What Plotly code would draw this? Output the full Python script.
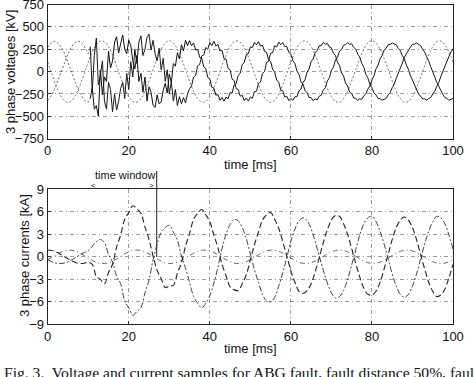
import numpy as np
import plotly.graph_objects as go

# ---------------- data ----------------
t_fine = np.linspace(0, 100, 201)   # voltage samples every 0.5 ms
t_ms = np.arange(0, 101)            # current / healthy-phase samples every 1 ms

va = [275, 308, 329, 339, 337, 323, 298, 262, 217, 164, 105, 43, -21, -85, -145, -200, -248, -287, -316, -334, -340,
      -300, -180, -420, -380, -500, 20, -260, -60, -110, 230, 40, 120, 330, 390, 210, 300, 410, 250, 200, 350,
      290, 120, 30, 180, -110, -20, -230, -60, -330, -170, -230, -380, -400, -260, -360, -340, -210, -130, -240, -30,
      -120, 90, 60, 210, 140, 300, 230, 350, 290, 345,
      290, 320, 240, 250, 160, 150, 55, 35, -65, -80,
      -175, -185, -265, -255, -320, -290, -330, -285, -305, -235,
      -240, -150, -135, -40, -20, 80, 100, 190, 200,
      275, 270, 325, 300, 335, 285, 295, 225, 215, 135,
      115, 25, -5, -95, -120, -205, -215, -285, -275, -325,
      -300, -320, -280, -280, -215, -195, -120, -90, -5, 30,
      115, 140, 215, 235, 290, 290, 325, 305, 315, 275,
      265, 205, 180, 105, 70, -15, -50, -130, -160, -230,
      -245, -295, -300, -320, -305, -310, -270, -250, -195, -160,
      -90, -50, 30, 70, 145, 180, 240, 260, 300, 305,
      320, 305, 300, 260, 235, 180, 140, 75, 25, -45,
      -95, -160, -200, -250, -275, -305, -305, -320, -300, -290,
      -250, -220, -165, -120, -55, 5, 60, 120, 170, 220, 255]

vb = [-323, -298, -262, -217, -164, -105, -43, 21, 85, 145, 200, 248, 287, 316, 334, 340, 334, 316, 287, 248, 200,
      280, -220, 180, 375, -150, -40, 120, -330, -420, -120, -200, -450, -250, -430, -330, -190, -120, -300, -20, -200,
      110, -60, 250, 90, 330, 400, 180, 250, 380, 420, 240, 350, 200, 120, 260, 20, 150, -110, 20, -250,
      -110, -330, -200, -380, -280, -360, -290, -350, -250, -190,
      -160, -60, -45, 65, 80, 175, 185, 270, 250, 325,
      290, 340, 285, 305, 230, 240, 145, 140, 35, 20,
      -85, -100, -190, -200, -275, -265, -325, -295, -330,
      -285, -300, -225, -220, -135, -115, -20, 0, 100, 115,
      205, 210, 290, 275, 330, 300, 325, 280, 280, 215,
      195, 120, 90, 5, -30, -115, -140, -215, -235, -290,
      -290, -325, -305, -315, -275, -265, -205, -180, -105, -70,
      15, 50, 130, 160, 230, 245, 295, 300, 325, 305,
      310, 270, 250, 195, 160, 90, 50, -30, -70, -145,
      -180, -240, -260, -300, -305, -320, -305, -300, -260, -235,
      -180, -140, -75, -25, 45, 95, 160, 200, 250, 275,
      305, 305, 320, 300, 290, 250, 220, 165, 120, 55,
      5, -60, -120, -170, -220, -255, -290, -300, -320, -305, -300]

vc = [107, -22, -147, -251, -321, -345, -321, -251, -147, -22, 107, 220, 302, 342, 334, 279, 185, 65, -65, -185,
      -279, -334, -342, -302, -220, -107, 22, 147, 251, 321, 345, 321, 251, 147, 22, -107, -220, -302, -342, -334,
      -279, -185, -65, 65, 185, 279, 334, 342, 302, 220,
      107, -22, -147, -251, -321, -345, -321, -251, -147, -22, 107, 220, 302, 342, 334, 279, 185, 65, -65, -185,
      -279, -334, -342, -302, -220, -107, 22, 147, 251, 321, 345, 321, 251, 147, 22, -107, -220, -302, -342, -334,
      -279, -185, -65, 65, 185, 279, 334, 342, 302, 220, 107]

ia = [0.9, 0.84, 0.66, 0.38, 0.06, -0.28, -0.57, -0.79, -0.89, -0.87, -0.73,
      -1.0, -2.6, -3.0, -3.6, -2.1, -1.0, 1.3, 2.9, 5.0, 5.9,
      6.8, 6.4, 5.8, 4.0, 2.3, 0.1, -1.8, -2.9, -4.1, -3.9,
      -3.8, -2.2, -0.8, 1.4, 3.1, 5.0, 5.8, 6.3, 5.6, 4.7,
      2.9, 1.2, -1.0, -2.5, -4.0, -4.4, -4.5, -3.6, -2.4, -0.4,
      1.6, 3.3, 4.9, 5.6, 5.9, 5.0, 3.8, 2.0, 0.1, -1.9,
      -3.4, -4.6, -4.9, -4.5, -3.6, -2.0, -0.1, 1.9, 3.6, 4.9,
      5.5, 5.4, 4.4, 3.0, 1.1, -0.9, -2.7, -4.2, -5.0, -5.1,
      -4.6, -3.4, -1.6, 0.3, 2.3, 3.9, 4.9, 5.3, 4.9, 3.9,
      2.3, 0.3, -1.6, -3.4, -4.6, -5.3, -5.1, -4.3, -2.8, -1.0]

ib = [-0.38, -0.66, -0.84, -0.9, -0.84, -0.66, -0.38, -0.06, 0.28, 0.57, 0.79,
      1.4, 2.0, 2.3, 1.9, 0.3, -0.7, -2.6, -3.6, -5.9, -6.8,
      -7.8, -7.3, -6.8, -4.8, -3.1, -0.4, 1.7, 3.3, 3.9, 4.2,
      3.3, 2.2, 0.1, -1.5, -3.4, -5.3, -6.2, -6.8, -6.2, -5.2,
      -3.5, -1.4, 1.1, 3.0, 4.3, 5.0, 4.8, 3.9, 2.4, 0.4,
      -1.7, -3.4, -5.0, -5.9, -6.0, -5.4, -3.9, -2.1, -0.1, 2.1,
      3.7, 4.8, 5.2, 4.8, 3.7, 2.0, 0.1, -1.8, -3.5, -4.8,
      -5.5, -5.3, -4.5, -3.0, -1.1, 0.9, 2.9, 4.4, 5.2, 5.4,
      4.7, 3.4, 1.7, -0.3, -2.3, -3.9, -5.0, -5.4, -5.0, -3.9,
      -2.3, -0.3, 1.7, 3.4, 4.7, 5.4, 5.2, 4.4, 2.9, 1.0]

ic = [-0.38, -0.06, 0.28, 0.57, 0.79, 0.89, 0.87, 0.73, 0.48, 0.17, -0.17, -0.48, -0.73, -0.87, -0.89, -0.79,
      -0.57, -0.28, 0.06, 0.38, 0.66, 0.84, 0.9, 0.84, 0.66, 0.38, 0.06, -0.28, -0.57, -0.79, -0.89, -0.87,
      -0.73, -0.48, -0.17, 0.17, 0.48, 0.73, 0.87, 0.89, 0.79, 0.57, 0.28, -0.06, -0.38, -0.66, -0.84, -0.9,
      -0.84, -0.66,
      -0.38, -0.06, 0.28, 0.57, 0.79, 0.89, 0.87, 0.73, 0.48, 0.17, -0.17, -0.48, -0.73, -0.87, -0.89, -0.79,
      -0.57, -0.28, 0.06, 0.38, 0.66, 0.84, 0.9, 0.84, 0.66, 0.38, 0.06, -0.28, -0.57, -0.79, -0.89, -0.87,
      -0.73, -0.48, -0.17, 0.17, 0.48, 0.73, 0.87, 0.89, 0.79, 0.57, 0.28, -0.06, -0.38, -0.66, -0.84, -0.9,
      -0.84, -0.66, -0.38]

fault_idx = 21          # sample index (0.5 ms grid) where the fault starts
window_start = 11.3     # ms
window_end = 26.9       # ms

x_ticks = [0, 20, 40, 60, 80, 100]
v_ticks = [-750, -500, -250, 0, 250, 500, 750]
i_ticks = [-9, -6, -3, 0, 3, 6, 9]

# ---------------- figure ----------------
W, H = 474, 377
def px(x):
    return x / W
def py(y):
    return 1 - y / H

SANS = "Liberation Sans, Arial, sans-serif"
SERIF = "Liberation Serif, Times New Roman, serif"

fig = go.Figure()

# top: voltages
fig.add_trace(go.Scatter(x=t_fine[:fault_idx + 1], y=va[:fault_idx + 1], mode='lines',
                         line=dict(color='#666', width=1, dash='2px,2px'), xaxis='x', yaxis='y'))
fig.add_trace(go.Scatter(x=t_fine[:fault_idx + 1], y=vb[:fault_idx + 1], mode='lines',
                         line=dict(color='#666', width=1, dash='2px,2px'), xaxis='x', yaxis='y'))
fig.add_trace(go.Scatter(x=t_ms, y=vc, mode='lines', line_shape='spline',
                         line=dict(color='#777', width=1, dash='2px,2px'), xaxis='x', yaxis='y'))
fig.add_trace(go.Scatter(x=t_fine[fault_idx:], y=va[fault_idx:], mode='lines',
                         line=dict(color='#111', width=1), xaxis='x', yaxis='y'))
fig.add_trace(go.Scatter(x=t_fine[fault_idx:], y=vb[fault_idx:], mode='lines',
                         line=dict(color='#1a1a1a', width=1), xaxis='x', yaxis='y'))

# bottom: currents
fig.add_trace(go.Scatter(x=t_ms, y=ic, mode='lines', line_shape='spline',
                         line=dict(color='#666', width=1, dash='5px,3px,1px,3px'), xaxis='x2', yaxis='y2'))
fig.add_trace(go.Scatter(x=t_ms, y=ib, mode='lines', line_shape='spline',
                         line=dict(color='#444', width=1, dash='6px,2px,2px,2px'), xaxis='x2', yaxis='y2'))
fig.add_trace(go.Scatter(x=t_ms, y=ia, mode='lines', line_shape='spline',
                         line=dict(color='#222', width=1.1, dash='6px,3px'), xaxis='x2', yaxis='y2'))

axis_common = dict(showline=True, mirror=True, linecolor='#222', linewidth=1, automargin=False,
                   ticks='inside', ticklen=3, tickcolor='#333', ticklabeloverflow='allow',
                   showgrid=True, gridcolor='#9a9a9a', gridwidth=1, griddash='4px,3px,1px,3px',
                   zeroline=False, tickfont=dict(family=SANS, size=13, color='#111'))

xdom = [px(47.7), px(453)]
fig.update_layout(
    template='none',
    width=W, height=H, margin=dict(l=0, r=0, t=0, b=0, pad=0), autosize=False,
    paper_bgcolor='white', plot_bgcolor='white', showlegend=False,
    xaxis=dict(domain=xdom, anchor='y', range=[0, 100], tickvals=x_ticks, **axis_common),
    yaxis=dict(domain=[py(138.7), py(4.5)], anchor='x', range=[-750, 750], tickvals=v_ticks, **axis_common),
    xaxis2=dict(domain=xdom, anchor='y2', range=[0, 100], tickvals=x_ticks, **axis_common),
    yaxis2=dict(domain=[py(324.3), py(189.3)], anchor='x2', range=[-9, 9], tickvals=i_ticks, **axis_common),
)

def label(x, y, text, size=13, angle=0, family=SANS, xref='paper'):
    fig.add_annotation(x=x, y=y, xref=xref, yref='paper', text=text, textangle=angle,
                       xanchor='center', yanchor='middle', showarrow=False,
                       font=dict(family=family, size=size, color='#111'))

# axis titles
label(px(10), py(72), '3 phase voltages [kV]', angle=-90)
label(px(24), py(256), '3 phase currents [kA]', angle=-90)
label(px(250), py(164), 'time [ms]')
label(px(250), py(348), 'time [ms]')

# time window marker
label((window_start + window_end) / 2, py(175), 'time window', size=11, xref='x2')
label(window_start, py(185), '&lt;', size=8, xref='x2')
label(window_end - 1.2, py(185), '&gt;', size=8, xref='x2')
fig.add_shape(type='line', xref='x2', yref='paper', x0=window_end, x1=window_end,
              y0=py(257), y1=py(171), line=dict(color='#222', width=1))

# caption
fig.add_annotation(x=px(2), y=py(362), xref='paper', yref='paper', xanchor='left', yanchor='top',
                   text='Fig. 3.  Voltage and current samples for ABG fault, fault distance 50%, fault',
                   showarrow=False, font=dict(family=SERIF, size=15.6, color='#111'))

fig.write_html("out.html", config={'displayModeBar': False},
               post_script="document.body.style.margin='0';")
